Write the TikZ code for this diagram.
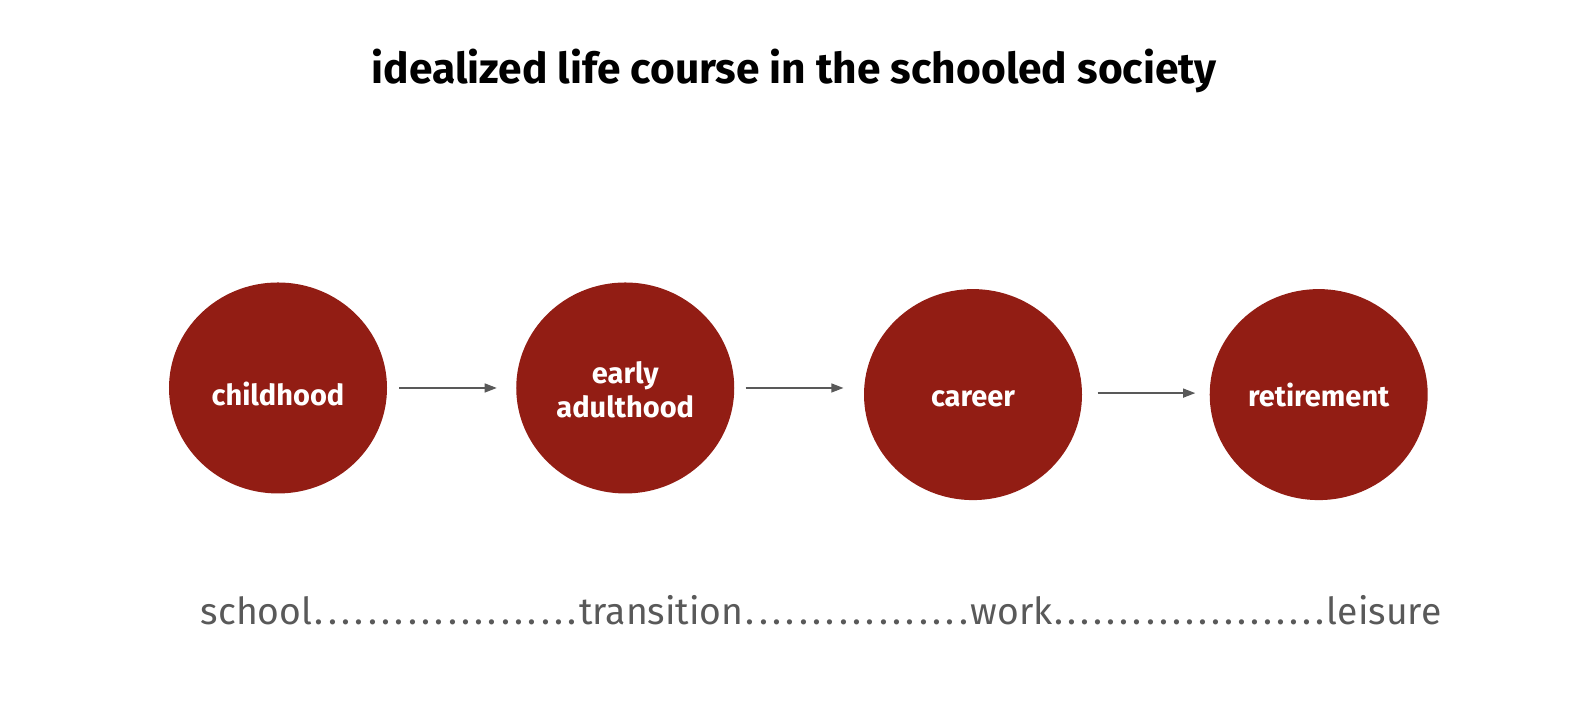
\documentclass[tikz,border=0pt]{standalone}
\usepackage{fontspec}
\setmainfont{Fira Sans}
\usetikzlibrary{shapes.geometric,arrows.meta}

\definecolor{lifered}{RGB}{146,29,20}
\definecolor{lifegray}{RGB}{89,89,89}

% evenly spaced dots between the words of the bottom line
\newcommand{\dotrun}[1]{\xleaders\hbox to 13pt{\hss.\hss}\hskip #1\relax}

\tikzset{
  stage/.style={ellipse, fill=lifered, minimum width=218pt, minimum height=211pt,
    inner sep=0pt, text=white, align=center, text depth=0pt, text height=34.6pt,
    font=\fontsize{29}{34}\selectfont\bfseries},
  flow/.style={draw=lifegray, line width=1.2pt, -{Triangle[length=12pt,width=9pt]}},
}

\begin{document}
\begin{tikzpicture}[x=1.0183pt,y=-1.0183pt]

    % Page frame (y runs downwards)
    \useasboundingbox (0,0) rectangle (1567.3,711);

    % Title
    \node[anchor=base, font=\fontsize{42.5}{48}\selectfont\bfseries] (title) at (780,82)
        {idealized life course in the schooled society};

    % Life stages
    \node[stage] (childhood)  at (273,381)     {childhood};
    \node[stage, text height=60pt] (adulthood) at (614,381) {early\\adulthood};
    \node[stage, text height=23.4pt] (career)     at (955.5,387.5) {career};
    \node[stage, text height=23.4pt] (retirement) at (1295,387.5)  {retirement};

    % Arrows between the stages
    \draw[flow, shorten <=12.2pt, shorten >=19.3pt] (childhood.east) -- (adulthood.west);
    \draw[flow, shorten <=11.2pt, shorten >=20.4pt] (adulthood.east) -- (adulthood.east -| career.west);
    \draw[flow, shorten <=15.3pt, shorten >=14.3pt] ([yshift=1.5pt]career.east) -- ([yshift=1.5pt]retirement.west);

    % Institutions along the course
    \node[anchor=base west, inner sep=0pt, text=lifegray, font=\fontsize{37.3}{44}\selectfont] (course) at (197,613)
        {school\dotrun{266.8pt}transition\dotrun{227pt}work\dotrun{274.5pt}leisure};

\end{tikzpicture}
\end{document}
